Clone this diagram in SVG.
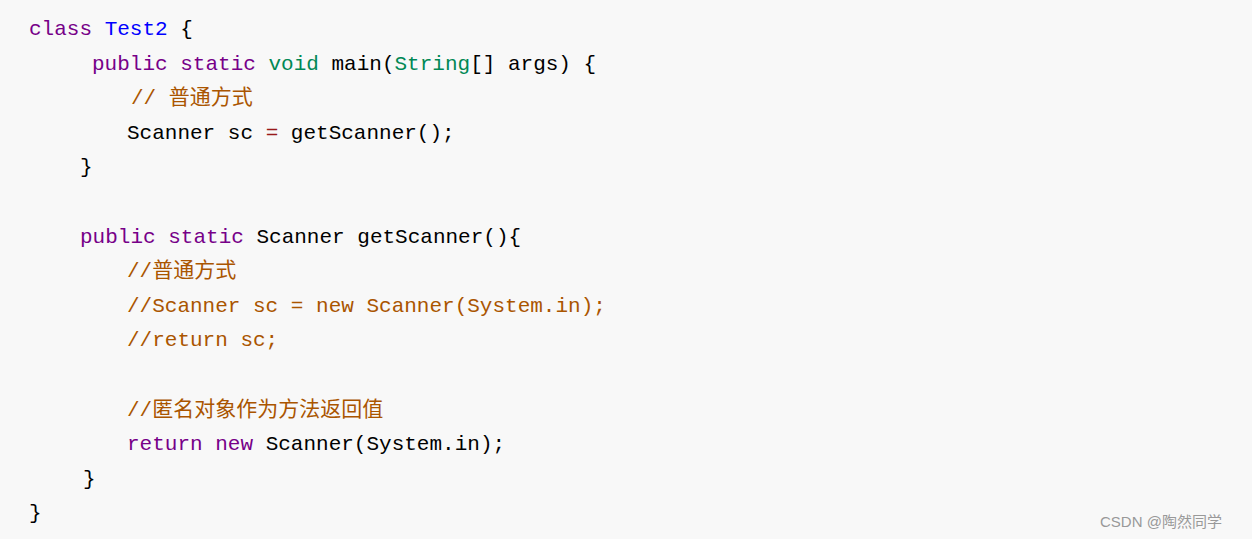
<svg xmlns="http://www.w3.org/2000/svg" width="1252" height="539" viewBox="0 0 1252 539">
<style>
text{font-family:"Liberation Mono","Noto Sans CJK SC",monospace;font-size:21px;fill:#000;white-space:pre}
.k{fill:#770088}.d{fill:#0000ff}.t{fill:#008855}.c{fill:#aa5500}.o{fill:#981a1a}
.w{font-family:"Liberation Sans","Noto Sans CJK SC",sans-serif;font-size:15px;fill:#999}
</style>
<rect width="1252" height="539" fill="#f8f8f8"/>
<g id="code">
<text x="29" y="35"><tspan class="k">class</tspan> <tspan class="d">Test2</tspan> {</text>
<text x="92" y="70"><tspan class="k">public</tspan> <tspan class="k">static</tspan> <tspan class="t">void</tspan> main(<tspan class="t">String</tspan>[] args) {</text>
<text x="131" y="104" class="c">// 普通方式</text>
<text x="127" y="139">Scanner sc <tspan class="o">=</tspan> getScanner();</text>
<text x="80" y="173">}</text>
<text x="80" y="243"><tspan class="k">public</tspan> <tspan class="k">static</tspan> Scanner getScanner(){</text>
<text x="127" y="277" class="c">//普通方式</text>
<text x="127" y="312" class="c">//Scanner sc = new Scanner(System.in);</text>
<text x="127" y="346" class="c">//return sc;</text>
<text x="127" y="416" class="c">//匿名对象作为方法返回值</text>
<text x="127" y="450"><tspan class="k">return</tspan> <tspan class="k">new</tspan> Scanner(System.in);</text>
<text x="83" y="485">}</text>
<text x="29" y="519">}</text>
</g>
<text class="w" x="1100" y="527">CSDN @陶然同学</text>
</svg>
